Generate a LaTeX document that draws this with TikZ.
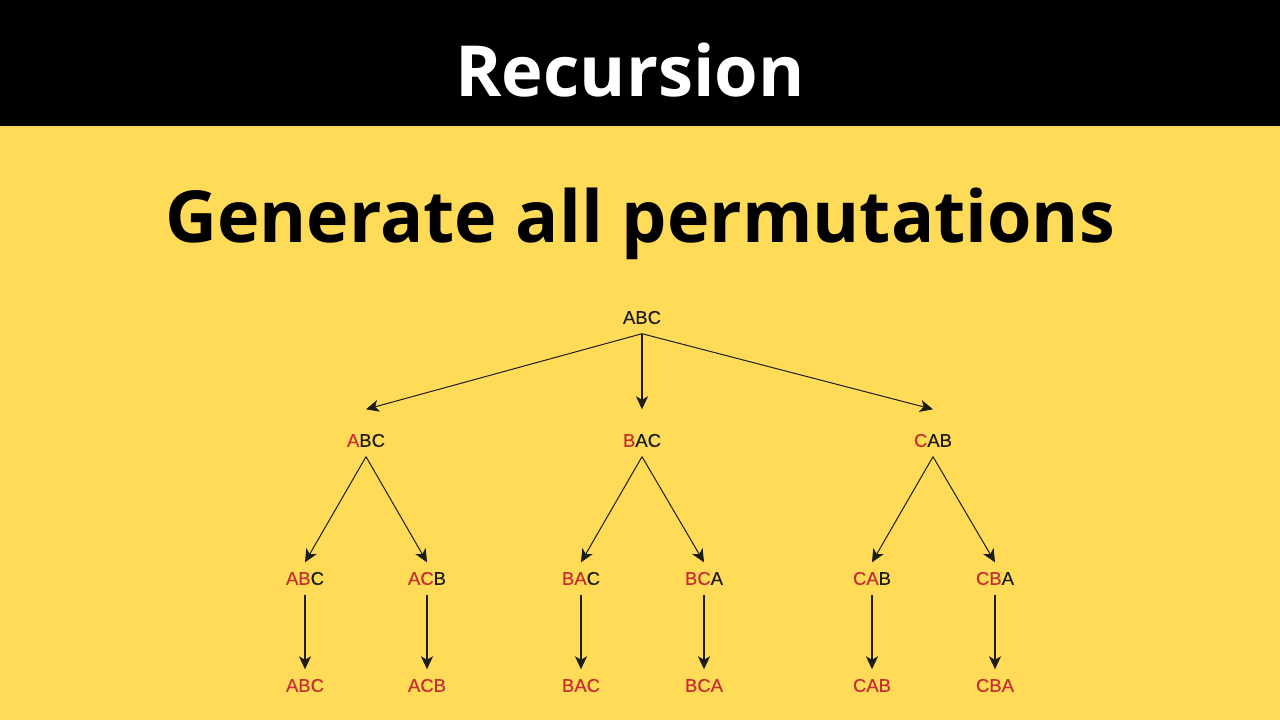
\documentclass[tikz,border=0pt]{standalone}
\usepackage{fontspec}
\setmainfont{Open Sans}
\newfontfamily\permfont[FakeBold=0.3]{Liberation Sans}
\usetikzlibrary{arrows.meta}
\definecolor{bgyellow}{RGB}{255, 219, 88}
\definecolor{permred}{RGB}{196, 48, 48}
\definecolor{inkgray}{RGB}{28, 28, 24}
\tikzset{
  perm/.style={font=\permfont\fontsize{18.5pt}{20pt}\selectfont, text=inkgray, inner sep=0pt, minimum height=32pt},
  link/.style={draw=inkgray, line width=1pt, -{Stealth[length=13pt,width=12pt,inset=3.5pt]}},
  downlink/.style={link, line width=1.6pt}
}
\newcommand{\rd}[1]{\textcolor{permred}{#1}}
\begin{document}
\begin{tikzpicture}[x=1pt,y=-1pt]
  \useasboundingbox (0,0) rectangle (1280,720);
  \fill[bgyellow] (0,0) rectangle (1280,720);
  \fill[black] (0,0) rectangle (1280,126);

  % titles
  \node[font=\fontsize{70.5pt}{80pt}\selectfont\bfseries, text=white] (title) at (630,70) {Recursion};
  \node[font=\fontsize{71.8pt}{80pt}\selectfont\bfseries, text=black] (subtitle) at (640,224) {Generate all permutations};

  % root
  \node[perm] (abc) at (642,317.5) {ABC};

  % second level
  \node[perm] (a) at (366,440.5) {\rd{A}BC};
  \node[perm] (b) at (642,440.5) {\rd{B}AC};
  \node[perm] (c) at (933,440.5) {\rd{C}AB};

  % third level
  \node[perm] (ab) at (305,578.5) {\rd{AB}C};
  \node[perm] (ac) at (427,578.5) {\rd{AC}B};
  \node[perm] (ba) at (581,578.5) {\rd{BA}C};
  \node[perm] (bc) at (704,578.5) {\rd{BC}A};
  \node[perm] (ca) at (872,578.5) {\rd{CA}B};
  \node[perm] (cb) at (995,578.5) {\rd{CB}A};

  % leaves
  \node[perm, text=permred] (abcl) at (305,685.5) {ABC};
  \node[perm, text=permred] (acbl) at (427,685.5) {ACB};
  \node[perm, text=permred] (bacl) at (581,685.5) {BAC};
  \node[perm, text=permred] (bcal) at (704,685.5) {BCA};
  \node[perm, text=permred] (cabl) at (872,685.5) {CAB};
  \node[perm, text=permred] (cbal) at (995,685.5) {CBA};

  % arrows
  \draw[link] (abc.south) -- ([yshift=15pt]a.north);
  \draw[downlink] (abc.south) -- ([yshift=15pt]b.north);
  \draw[link] (abc.south) -- ([yshift=15pt]c.north);
  \foreach \from/\to in {a/ab, a/ac, b/ba, b/bc, c/ca, c/cb}
    \draw[link] (\from.south) -- (\to.north);
  \foreach \from/\to in {ab/abcl, ac/acbl, ba/bacl, bc/bcal, ca/cabl, cb/cbal}
    \draw[downlink] (\from.south) -- (\to.north);
\end{tikzpicture}
\end{document}
